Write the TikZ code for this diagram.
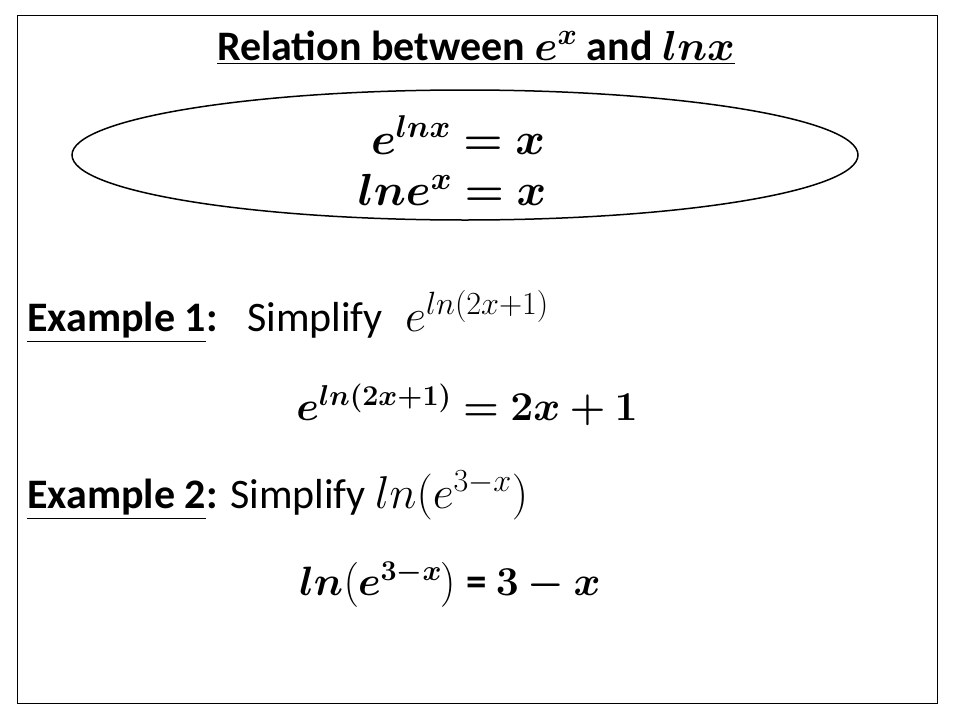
\documentclass[tikz,border=0pt]{standalone}
\usepackage{fix-cm}
\usepackage{amsmath,bm}
\usepackage{fontspec}
\setmainfont{Carlito}
\usetikzlibrary{shapes.geometric}
\tikzset{
  lbl/.style={inner sep=0pt,font=\fontsize{42}{48}\selectfont},
  eq/.style={inner sep=0pt,font=\fontsize{41}{48}\selectfont},
}
\begin{document}
\begin{tikzpicture}[x=1pt,y=-1pt]
\useasboundingbox (0,0) rectangle (960,720);
\draw[line width=1pt] (17,15) rectangle (937,703);
\node[draw,line width=1.5pt,ellipse,minimum width=786pt,minimum height=130pt] (ell) at (465,155) {};
\node[lbl,font=\fontsize{42}{48}\selectfont\bfseries] (title) at (476,48) {\underline{Relation between $\bm{e^{x}}$ and $\bm{lnx}$}};
\node[eq,font=\fontsize{45}{52}\selectfont] (e1) at (458,135) {$\bm{e^{lnx}=x}$};
\node[eq,font=\fontsize{45}{52}\selectfont] (e2) at (452,190) {$\bm{lne^{x}=x}$};
\node[lbl,anchor=base west] (ex1) at (27,331) {\textbf{\underline{Example 1}:}};
\node[lbl,anchor=base west] (s1) at (247,331) {Simplify};
\node[lbl,anchor=base west,font=\fontsize{46}{52}\selectfont] (m1) at (405,331) {$e^{ln(2x+1)}$};
\node[eq] (a1) at (467,405) {$\bm{e^{ln(2x+1)}=2x+1}$};
\node[lbl,anchor=base west] (ex2) at (27,508) {\textbf{\underline{Example 2}:}};
\node[lbl,anchor=base west] (s2) at (230,508) {Simplify};
\node[lbl,anchor=base west,font=\fontsize{46}{52}\selectfont] (m2) at (375,508) {$ln(e^{3-x})$};
\node[eq] (a2) at (450,585) {$\bm{ln\big(e^{3-x}\big)}$ \textbf{=} $\bm{3-x}$};
\end{tikzpicture}
\end{document}
